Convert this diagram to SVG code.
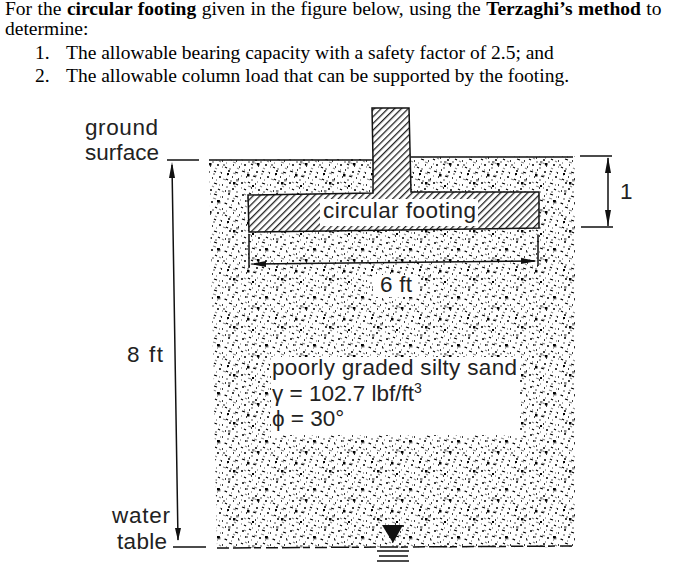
<svg xmlns="http://www.w3.org/2000/svg" width="674" height="581" viewBox="0 0 674 581">
<style>
.q{font-family:"Liberation Serif","Times New Roman",serif;font-size:19.5px;fill:#000}
.l{font-family:"Liberation Sans",Arial,sans-serif;font-size:22.5px;fill:#222}
.ln{fill:none;stroke:#111;stroke-width:1.5}
.ar{fill:#111;stroke:none}
</style>
<defs>
<pattern id="soil" width="48" height="48" patternUnits="userSpaceOnUse">
<path d="M2 3h2M9 1l2 1M16 4h1M22 2l3 1M30 5h1M36 2h2M43 4l3 1M5 9h1M12 8l3 1M19 10h2M27 9h1M33 11l2 1M40 9h2M46 11h1M1 15l2 1M8 14h1M15 16h2M23 15l2 1M30 17h1M37 15l3 1M44 17h1M4 21h2M11 20l2 1M18 22h1M25 21h2M33 23l2 1M41 21h1M47 23h1M2 27l3 1M9 26h1M16 28h2M22 27l2 1M29 29h1M36 27h2M43 28l3 1M6 33h1M13 32l3 1M20 34h1M27 33h2M34 35l2 1M40 33h1M46 35h1M1 39h2M8 38l2 1M15 40h1M22 39l3 1M30 41h1M37 39h2M44 40l2 1M4 45l2 1M11 44h1M18 46h2M26 45l2 1M33 47h1M40 45h2" stroke="#000" stroke-width="1.300" fill="none"/>
<path d="M25 8h2.500v2.500h-2.500zM7 30h2.500v2.500h-2.500zM41 38h2.500v2.500h-2.500zM17 19h2.500v2.500h-2.500zM35 29h2v2h-2zM12 41h2v2h-2z" fill="#000"/>
</pattern>
<pattern id="soil2" href="#soil" patternTransform="translate(19,27)"/>
<pattern id="hatch" width="4.800" height="4.800" patternUnits="userSpaceOnUse" patternTransform="rotate(45)">
<rect width="1.3" height="4.800" fill="#222"/>
</pattern>
</defs>
<g id="question">
<text class="q" x="5" y="15" word-spacing="0.6">For the <tspan font-weight="bold">circular footing</tspan> given in the figure below, using the <tspan font-weight="bold">Terzaghi’s method</tspan> to</text>
<text class="q" x="5" y="35">determine:</text>
<text class="q" x="35" y="59">1.</text>
<text class="q" x="66" y="59">The allowable bearing capacity with a safety factor of 2.5; and</text>
<text class="q" x="35" y="82">2.</text>
<text class="q" x="66" y="82">The allowable column load that can be supported by the footing.</text>
</g>
<g id="soil-mass">
<polygon points="209,160 373,159 373,193 248,195 249,232 539,228 539,192 411,192 411,157 575,156 575,547 217,548" fill="url(#soil)"/>
<polygon points="209,160 373,159 373,193 248,195 249,232 539,228 539,192 411,192 411,157 575,156 575,547 217,548" fill="url(#soil2)" opacity=".45"/>
<rect x="373" y="275" width="45" height="22" fill="#fff"/>
<rect x="271" y="357" width="249" height="78" fill="#fff"/>
</g>
<g id="footing">
<polygon points="372,108 409,108 411,192 539,192 539,228 249,232 248,195 373,193" fill="url(#hatch)"/>
<rect x="320" y="199" width="158" height="27" fill="#fff"/>
<polyline class="ln" points="373,159 372,108 409,108 411,192 539,192 539,228 249,232 248,195 373,193 373,159"/>
</g>
<g id="connectors">
<path class="ln" d="M209 160H373M411 157H573M167 160H199M173 547H206M580 156H612M581 227H613M249 234V268M538 235V266M172 165L178 540M608 158V226M254 264L535 261"/>
<path class="ln" stroke-dasharray="12 4 18 3 7 5" d="M217 548L575 546"/>
<path class="ar" d="M172 162L175 178H169ZM178 541L175 528H181ZM608 157L611 173H605ZM608 226L605 210H611ZM250 264L266 261V267ZM537 261L521 258V264Z"/>
</g>
<g id="water-table">
<polygon points="382,525 403,525 393,543" fill="#111"/>
<path class="ln" d="M377 551H409M379 556H408M377 561H409"/>
</g>
<g id="labels">
<text class="l" x="85" y="135" textLength="73">ground</text>
<text class="l" x="85" y="160" textLength="74">surface</text>
<text class="l" x="127" y="362" textLength="36">8 ft</text>
<text class="l" x="112" y="523" textLength="58">water</text>
<text class="l" x="117" y="549" textLength="50">table</text>
<text class="l" x="323" y="218" textLength="153">circular footing</text>
<text class="l" x="380" y="292" textLength="32">6 ft</text>
<text class="l" x="272" y="375" textLength="245">poorly graded silty sand</text>
<text class="l" x="272" y="401" font-size="22">γ = 102.7 lbf/ft<tspan font-size="14" dy="-8">3</tspan></text>
<text class="l" x="272" y="426" font-size="22">ϕ = 30°</text>
<text class="l" x="620" y="199" font-size="17">1</text>
</g>
</svg>
